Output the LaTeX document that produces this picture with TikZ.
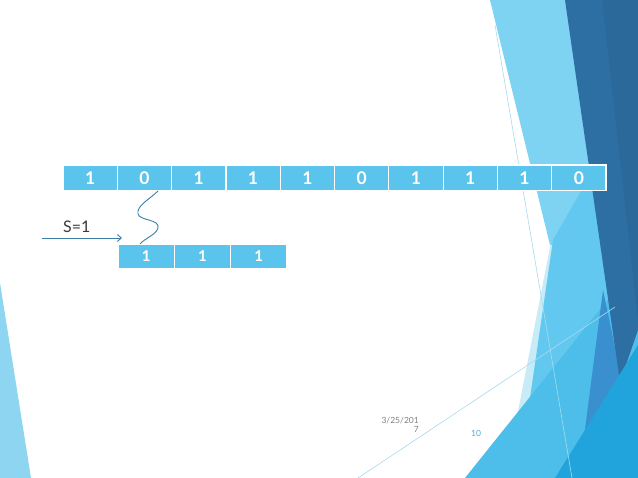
\documentclass[tikz,border=0pt]{standalone}
\usepackage{fontspec}
\setmainfont{Lato}
\usetikzlibrary{arrows.meta}
\definecolor{cellblue}{HTML}{5BC4EC}
\definecolor{bandblue}{HTML}{7ED3F2}
\definecolor{paleblue}{HTML}{C8EBF8}
\definecolor{medblue}{HTML}{62C8EF}
\definecolor{cyanblue}{HTML}{4DBEE9}
\definecolor{midblue}{HTML}{3A90CF}
\definecolor{darkblue}{HTML}{2D6FA3}
\definecolor{deepcyan}{HTML}{21A3DB}
\definecolor{leftblue}{HTML}{8DD5F0}
\definecolor{thinline}{HTML}{A6DBF0}
\definecolor{arrowcol}{HTML}{3E80A3}
\definecolor{labelgray}{HTML}{3A3A3A}
\definecolor{dategray}{HTML}{808080}
\definecolor{numblue}{HTML}{4DAFE0}
\tikzset{
  topcell/.style={rectangle, fill=cellblue, draw=white, line width=1.2pt,
    minimum width=54.3pt, minimum height=25.7pt, inner sep=0pt,
    text=white, font=\fontsize{17.5}{17.5}\selectfont\bfseries},
  botcell/.style={rectangle, fill=cellblue, draw=white, line width=1.2pt,
    minimum width=56.3pt, minimum height=23.6pt, inner sep=0pt,
    text=white, font=\fontsize{15}{15}\selectfont\bfseries},
  conn/.style={draw=arrowcol, line width=0.9pt},
}
\begin{document}
\begin{tikzpicture}[x=1pt, y=-1pt]
\useasboundingbox (0,0) rectangle (638,478);
\fill[white] (0,0) rectangle (638,478);
% background shapes
\fill[leftblue] (0,283) -- (31,478) -- (0,478) -- cycle;
\fill[paleblue] (553,232) -- (505,478) -- (610,478) -- cycle;
\fill[bandblue] (490,0) -- (566,0) -- (600,245) -- (550,245) -- cycle;
\fill[medblue] (592,172) -- (553,240) -- (530,398) -- (612,300) -- cycle;
\fill[cyanblue] (465,478) -- (638,262) -- (638,478) -- cycle;
\fill[midblue] (603,290) -- (625,395) -- (583,445) -- cycle;
\fill[darkblue] (565,0) -- (638,0) -- (638,330) -- (620,382) -- cycle;
\fill[darkblue!90!black, opacity=0.5] (602,0) -- (638,0) -- (638,320) -- cycle;
\fill[deepcyan] (555,478) -- (638,345) -- (638,478) -- cycle;
\draw[thinline, line width=0.6pt] (495,25) -- (572,478);
\draw[thinline, line width=0.6pt] (358,478) -- (615,307);
% top row
\foreach \v [count=\i] in {1,0,1,1,1,0,1,1,1,0} {
  \node[topcell] (t\i) at ({63+54.3*(\i-0.5)},177.8) {\v};
}
% bottom row
\foreach \v [count=\i] in {1,1,1} {
  \node[botcell] (b\i) at ({118+56.3*(\i-0.5)},256.5) {\v};
}
% label and arrow
\node[anchor=base west, text=labelgray, inner sep=0pt, font=\fontsize{16}{16}\selectfont] (slabel) at (63,233) {S=1};
\coordinate (astart) at (42,238);
\coordinate (aend) at (122,238);
\draw[conn, -{Straight Barb[length=4pt,width=7pt]}] (astart) -- (aend);
% squiggle
\coordinate (q1) at (158,191);
\coordinate (q2) at (140,244);
\draw[conn] (q1) .. controls (150,199) and (136,206) .. (138,214)
  .. controls (140,221) and (160,219) .. (158,228)
  .. controls (156,235) and (145,238) .. (q2);
% footer
\node[anchor=base east, align=right, text=dategray, inner sep=0pt,
  font=\fontsize{8.5}{9}\selectfont] (date) at (419,433) {3/25/201\\7};
\node[anchor=base west, text=numblue, inner sep=0pt,
  font=\fontsize{8.5}{9}\selectfont] (pnum) at (471,437) {10};
\end{tikzpicture}
\end{document}
